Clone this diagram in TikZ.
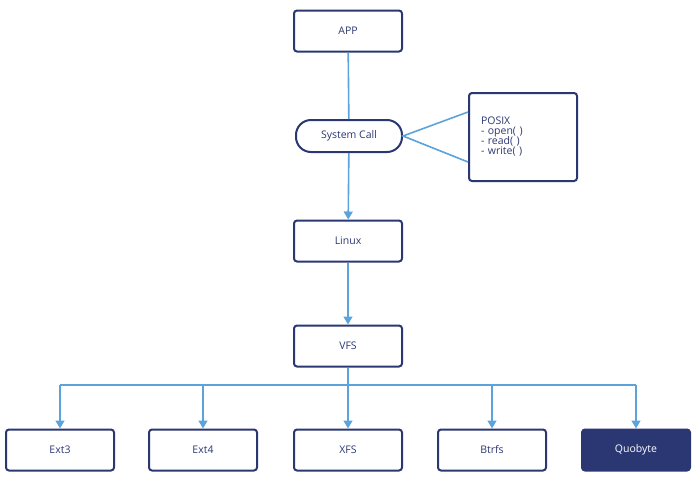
\documentclass[tikz,border=0pt]{standalone}
\usepackage{fontspec}
\setmainfont{Open Sans}
\usetikzlibrary{arrows.meta}
\definecolor{navy}{HTML}{2B3773}
\definecolor{lblue}{HTML}{5DA3DB}
\begin{document}
\begin{tikzpicture}[x=1pt,y=-1pt,
 box/.style={draw=navy,line width=2pt,rounded corners=3pt,minimum width=108pt,minimum height=41pt,inner sep=0pt,text=navy,font=\fontsize{10.5}{12}\selectfont},
 pill/.style={draw=navy,line width=2pt,rounded corners=15pt,minimum width=106pt,minimum height=32pt,inner sep=0pt,text=navy,font=\fontsize{10.5}{12}\selectfont},
 ln/.style={draw=lblue,line width=1.6pt},
 ar/.style={ln,-{Triangle[length=8pt,width=9pt]}}]
\useasboundingbox (0,0) rectangle (694,480);
\node[box] (app) at (348,31) {APP};
\node[pill] (sys) at (349,136) {System Call};
\node[box,minimum width=108pt,minimum height=88pt,align=left,text width=84pt] (posix) at (523,137) {POSIX\\[-2pt]- open( )\\[-2pt]- read( )\\[-2pt]- write( )};
\node[box] (linux) at (348,241) {Linux};
\node[box] (vfs) at (348,346) {VFS};
\node[box] (e3) at (60,450) {Ext3};
\node[box] (e4) at (203,450) {Ext4};
\node[box] (xfs) at (348,450) {XFS};
\node[box] (btr) at (492,450) {Btrfs};
\node[box,fill=navy,text=white] (quo) at (636,450) {Quobyte};
\coordinate (b) at (348,385);
\draw[ln] (app) -- (sys);
\draw[ln] (posix.west |- 0,112) -- (sys.east) -- (posix.west |- 0,162);
\draw[ar] (sys) -- (linux);
\draw[ar] (linux) -- (vfs);
\draw[ln] (vfs) -- (b);
\draw[ln] (e3.north |- b) -- (quo.north |- b);
\foreach \n in {e3,e4,xfs,btr,quo} \draw[ar] (\n.north |- b) -- (\n.north);
\end{tikzpicture}
\end{document}
